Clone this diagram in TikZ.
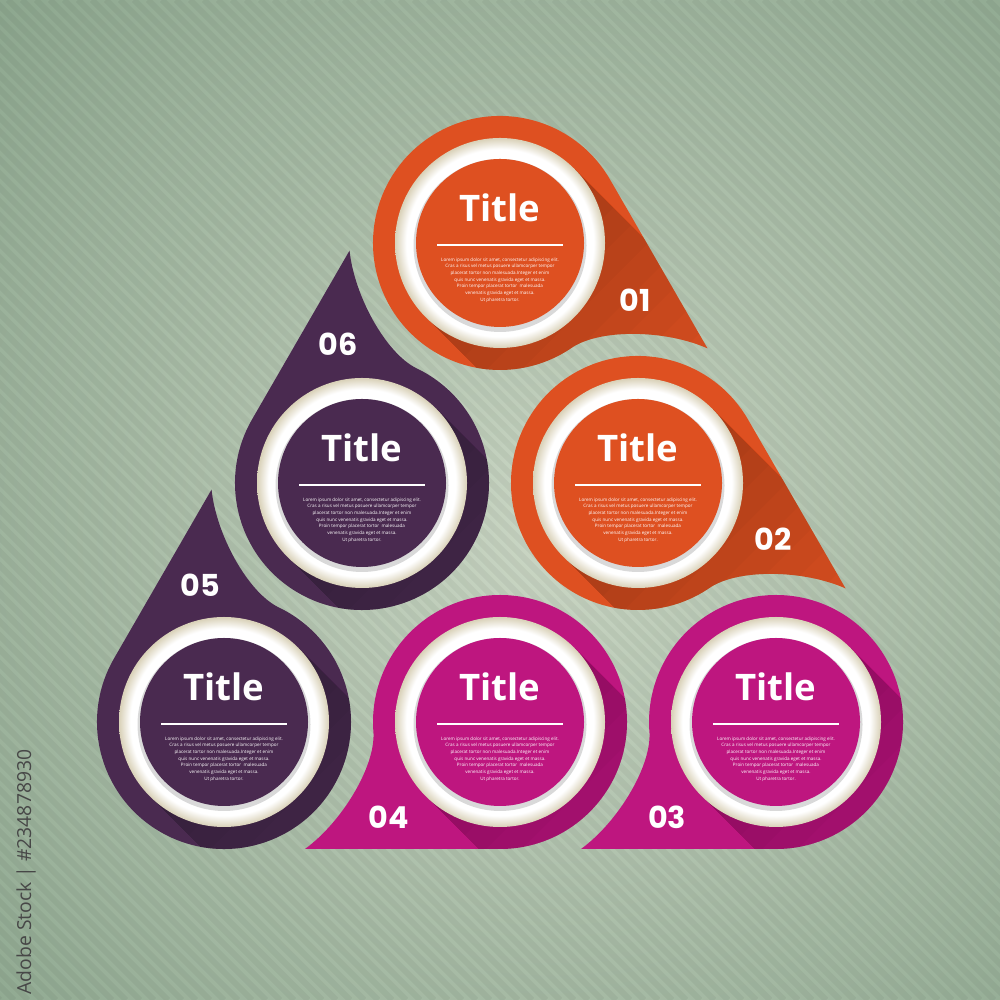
\documentclass[tikz,border=0pt]{standalone}
\usepackage{fontspec}
\setmainfont{Open Sans}
\newfontfamily\numfont{Poppins}
\definecolor{bgin}{HTML}{CAD6C4}
\definecolor{bgout}{HTML}{89A48B}
\definecolor{dorange}{HTML}{DE5021}
\definecolor{dmagenta}{HTML}{BE167F}
\definecolor{dpurple}{HTML}{4A2A50}
\definecolor{ringcream}{HTML}{D9D1B8}
\pgfdeclareradialshading{ringshade}{\pgfpoint{0bp}{0bp}}{color(0bp)=(white); color(20bp)=(white); color(22.3bp)=(white); color(25bp)=(ringcream); color(50bp)=(ringcream)}
\def\droppath{(-1.95,-1.27) -- (0,-1.27) arc[start angle=-90,end angle=185,radius=1.27] .. controls (-1.25,-0.45) and (-1.58,-1.00) .. (-1.95,-1.27) -- cycle}
\newcommand\bodytxt{Lorem ipsum dolor sit amet, consectetur adipiscing elit.\\Cras a risus vel metus posuere ullamcorper tempor\\placerat tortor non malesuada.Integer et enim\\quis nunc venenatis gravida eget et massa.\\Proin tempor placerat tortor\ \ malesuada\\venenatis gravida eget et massa.\\Ut pharetra tortor.}
\tikzset{
  titletext/.style={text=white, inner sep=0pt, anchor=base, font=\fontsize{10.4}{12}\selectfont\bfseries},
  bodytext/.style={text=white, inner sep=0pt, align=center, font=\fontsize{1.3}{1.9}\selectfont},
  numtext/.style={text=white, inner sep=0pt, font=\numfont\fontsize{8.6}{9}\selectfont\bfseries},
  titlerule/.style={white, line width=0.022cm},
  longshadow/.style={black, opacity=.022},
}
% #1 name, #2 centre, #3 rotation, #4 colour, #5 number, #6 number position
\newcommand\mkdrop[6]{%
\begin{scope}[shift={#2}]
  \fill[#4, rotate=#3] \droppath;
  \begin{scope}
    \clip[rotate=#3] \droppath;
    \foreach \L in {0.3,0.55,...,2.6}
      \fill[longshadow] (45:1.05) -- ++(-45:\L) -- ++(225:2.1) -- ++(135:\L) -- cycle;
  \end{scope}
  \shade[shading=ringshade] (0,0) circle (1.05);
  \fill[black, opacity=.15] (0,-0.025) circle (0.865);
  \fill[#4] (0,0) circle (0.84);
  \node[titletext] (#1t) at (0,0.21) {Title};
  \draw[titlerule] (-0.63,-0.02) -- (0.63,-0.02);
  \node[bodytext] (#1b) at (0,-0.37) {\bodytxt};
  \node[numtext] (#1n) at #6 {#5};
\end{scope}}
\begin{document}
\begin{tikzpicture}
\useasboundingbox (0,0) rectangle (10,10);
\begin{scope}
  \clip (0,0) rectangle (10,10);
  \fill[bgout] (0,0) rectangle (10,10);
  \shade[inner color=bgin, outer color=bgout] (5.5,4.6) circle (8.2);
  \foreach \i in {0,...,150}
    \draw[black, opacity=.045, line width=0.06cm] ({-10+\i*0.14},10) -- ++(10,-10);
\end{scope}
\node[rotate=90, text=black!72, inner sep=0pt, font=\fontsize{5.5}{6}\selectfont] (wm) at (0.26,1.28) {Adobe Stock | \#234878930};
\mkdrop{d1}{(5.00,7.57)}{120}{dorange}{01}{(1.35,-0.57)}
\mkdrop{d2}{(6.38,5.17)}{120}{dorange}{02}{(1.35,-0.56)}
\mkdrop{d3}{(7.76,2.78)}{0}{dmagenta}{03}{(-1.09,-0.95)}
\mkdrop{d4}{(5.00,2.78)}{0}{dmagenta}{04}{(-1.11,-0.95)}
\mkdrop{d5}{(2.24,2.78)}{-120}{dpurple}{05}{(-0.24,1.37)}
\mkdrop{d6}{(3.62,5.17)}{-120}{dpurple}{06}{(-0.24,1.39)}
\end{tikzpicture}
\end{document}
